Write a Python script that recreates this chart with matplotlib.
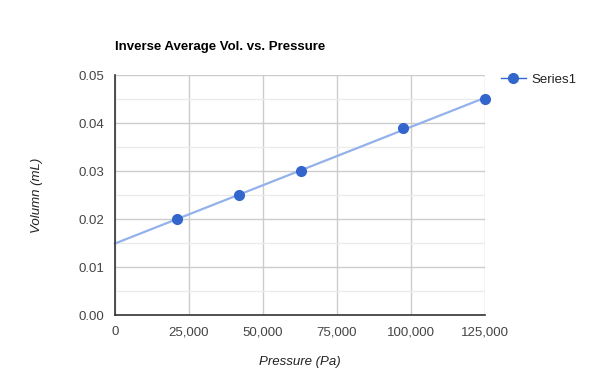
import matplotlib
matplotlib.use("Agg")
import matplotlib.pyplot as plt
import numpy as np
from matplotlib.ticker import FuncFormatter, MultipleLocator

plt.rcParams['font.family'] = ['Liberation Sans', 'DejaVu Sans']

pressure = [21000, 41800, 62700, 97400, 125000]
volume = [0.020, 0.025, 0.030, 0.039, 0.045]
series_name = "Series1"
title = "Inverse Average Vol. vs. Pressure"
xlabel = "Pressure (Pa)"
ylabel = "Volumn (mL)"

fig = plt.figure(figsize=(6, 3.9), dpi=100)
ax = fig.add_axes([115/600, 75/390, 370/600, 240/390])

# trendline (linear fit)
m, b = np.polyfit(pressure, volume, 1)
xs = np.array([0, 125000])
ax.plot(xs, m * xs + b, color='#93b1ea', lw=1.6, zorder=3, clip_on=False)
ax.plot(pressure, volume, 'o', color='#3366cc', ms=7, zorder=6, clip_on=False)

ax.set_xlim(0, 125000)
ax.set_ylim(0, 0.05)
ax.xaxis.set_major_locator(MultipleLocator(25000))
ax.yaxis.set_major_locator(MultipleLocator(0.01))
ax.yaxis.set_minor_locator(MultipleLocator(0.005))
ax.xaxis.set_major_formatter(FuncFormatter(lambda v, p: f"{int(v):,}"))
ax.yaxis.set_major_formatter(FuncFormatter(lambda v, p: f"{v:.2f}"))
ax.grid(True, which='major', color='#cccccc', lw=1, zorder=0)
ax.grid(True, which='minor', axis='y', color='#ebebeb', lw=1, zorder=0)
ax.tick_params(which='both', length=0, labelsize=9.5, colors='#444444', pad=8)
for s in ['top', 'right']:
    ax.spines[s].set_visible(False)
for s in ['left', 'bottom']:
    ax.spines[s].set_color('#333333')
    ax.spines[s].set_linewidth(1.2)
    ax.spines[s].set_zorder(5)

fig.text(115/600, 1 - 47/390, title, fontsize=9.5, fontweight='bold', color='#000000', va='center', ha='left')
fig.text(300/600, 1 - 362/390, xlabel, fontsize=9.5, style='italic', color='#222222', ha='center', va='center')
fig.text(37/600, 1 - 195/390, ylabel, fontsize=9.5, style='italic', color='#222222', ha='center', va='center', rotation=90)

# legend
from matplotlib.lines import Line2D
h = Line2D([0], [0], color='#3366cc', lw=1, marker='o', ms=7, markerfacecolor='#3366cc')
fig.legend([h], [series_name], loc='center left', bbox_to_anchor=(489/600, 1 - 80/390),
           frameon=False, fontsize=9.5, handlelength=1.9, handletextpad=0.4, labelcolor='#222222')

fig.savefig('out.png', dpi=100)
